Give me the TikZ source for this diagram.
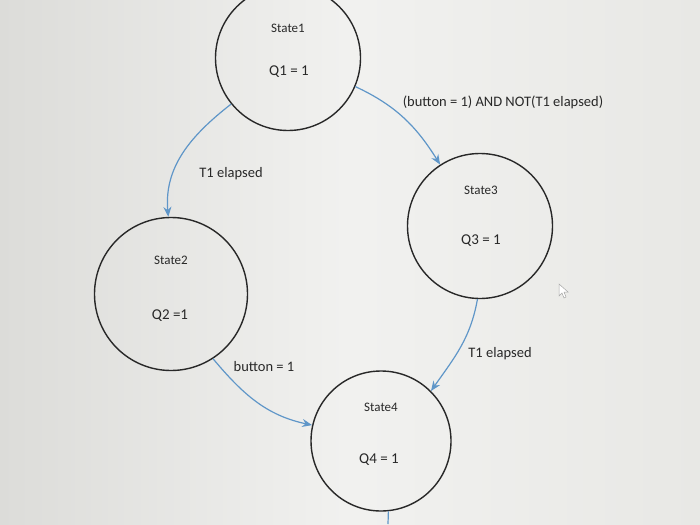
\documentclass[tikz,border=0pt]{standalone}
\usepackage{fontspec}
\setmainfont{Carlito}
\usetikzlibrary{arrows.meta}
\definecolor{bgc}{RGB}{232,232,229}
\definecolor{bgl}{RGB}{220,220,217}
\definecolor{edgec}{RGB}{95,150,200}
\definecolor{ringc}{RGB}{40,40,40}
\tikzset{
  statenode/.style={circle, draw=ringc, line width=1.4pt, inner sep=0pt},
  tline/.style={font=\fontsize{13}{14}\selectfont, text=ringc},
  qline/.style={font=\fontsize{15}{16}\selectfont, text=ringc},
  trans/.style={draw=edgec, line width=1.2pt, -{Stealth[length=10pt,width=8pt]}},
  elabel/.style={font=\fontsize{14.5}{16}\selectfont, text=ringc},
}
\begin{document}
\begin{tikzpicture}[x=1pt,y=-1pt]
\useasboundingbox (0,0) rectangle (700,524);
\shade[left color=bgl, right color=bgc, middle color=bgc!60!white] (0,0) rectangle (700,524);
% states
\node[statenode, minimum size=145pt] (s1) at (288,58) {};
\node[statenode, minimum size=145pt] (s3) at (480,226) {};
\node[statenode, minimum size=153pt] (s2) at (171,294) {};
\node[statenode, minimum size=140pt] (s4) at (381,441) {};
% texts
\node[tline] (t1) at (288,28) {State1};
\node[qline] (q1) at (289,72) {Q1 = 1};
\node[tline] (t3) at (481,190) {State3};
\node[qline] (q3) at (481,241) {Q3 = 1};
\node[tline] (t2) at (171,260) {State2};
\node[qline] (q2) at (170,316) {Q2 =1};
\node[tline] (t4) at (381,407) {State4};
\node[qline] (q4) at (379,460) {Q4 = 1};
% transitions
\draw[trans] (s1.219) to[out=218,in=95] (s2.92);
\draw[trans] (s1.-23) to[out=-25,in=122] (s3.123);
\draw[trans] (s2.-57) to[out=-50,in=168] (s4.167);
\draw[trans] (s3.-92) to[out=-100,in=55] (s4.45);
\coordinate (out4) at (388,524);
\draw[draw=edgec, line width=1.2pt] (s4.-84) -- (out4);
% labels
\node[elabel] (l12) at (231,174) {T1 elapsed};
\node[elabel] (l13) at (503,102) {(button = 1) AND NOT(T1 elapsed)};
\node[elabel] (l24) at (264,367) {button = 1};
\node[elabel] (l34) at (500,354) {T1 elapsed};
% cursor
\draw[draw=gray!70, fill=white, line width=0.5pt] (559,284) -- (559,296) -- (562,293) -- (564,298) -- (566,297) -- (564,292) -- (568,292) -- cycle;
\end{tikzpicture}
\end{document}
